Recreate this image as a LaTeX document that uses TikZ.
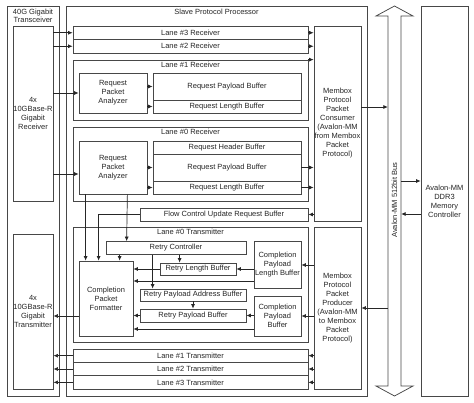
\documentclass[tikz,border=0pt]{standalone}
\usepackage{fontspec}
\setmainfont{Liberation Sans}
\usetikzlibrary{
  calc, % Für Koordinatenberechnungen
  arrows.meta % Für Pfeilspitzen
}

\begin{document}
\begin{tikzpicture}[
      x=1pt, y=-1pt, % Pixelkoordinaten, y nach unten
      >={Latex[length=4.5pt,width=4pt]}, % Standard-Pfeilspitze
      font=\fontsize{7.5}{9}\selectfont,
      text=black!85,
      linie/.style={draw=black!72, line width=0.75pt}, % Rahmenlinie
      box/.style={linie, inner sep=0.5pt, align=center}, % Kästen
      titel/.style={anchor=north, inner sep=2.5pt, align=center}, % Überschriften
      pfeil/.style={black!85, line width=0.7pt, ->}, % Signalpfeile
    ]
    % Größen
    \def\breit{235}
    \def\schmal{47}
    \path[use as bounding box, fill=white] (0,0) rectangle (474,402);

    % Transceiver
    \node[box, minimum width=52, minimum height=390] (trx) at (33,201) {};
    \node[titel, inner sep=3pt] (trxtitel) at (trx.north) {40G Gigabit\\[-1pt]Transceiver};
    \node[box, minimum width=40, minimum height=175] (rx) at (33,113.5) {4x\\10GBase-R\\Gigabit\\Receiver};
    \node[box, minimum width=40, minimum height=155] (tx) at (33,311.5) {4x\\10GBase-R\\Gigabit\\Transmitter};

    % Slave Protocol Processor
    \node[box, minimum width=301, minimum height=390] (spp) at (216.5,201) {};
    \node[titel, inner sep=3pt] (spptitel) at (spp.north) {Slave Protocol Processor};

    % Empfänger
    \node[box, minimum width=\breit, minimum height=13.5] (rx3) at (190.5,32.75) {Lane \#3 Receiver};
    \node[box, minimum width=\breit, minimum height=13.5] (rx2) at (190.5,46.25) {Lane \#2 Receiver};

    \node[box, minimum width=\breit, minimum height=60] (rx1) at (190.5,90) {};
    \node[titel] (rx1titel) at (rx1.north) {Lane \#1 Receiver};
    \node[box, minimum width=68, minimum height=40] (ana1) at (113,93) {Request\\Packet\\Analyzer};
    \node[box, minimum width=148, minimum height=27] (pay1) at (227,86.5) {Request Payload Buffer};
    \node[box, minimum width=148, minimum height=13] (len1) at (227,106.5) {Request Length Buffer};

    \node[box, minimum width=\breit, minimum height=74] (rx0) at (190.5,164) {};
    \node[titel] (rx0titel) at (rx0.north) {Lane \#0 Receiver};
    \node[box, minimum width=68, minimum height=53] (ana0) at (113,167.5) {Request\\Packet\\Analyzer};
    \node[box, minimum width=148, minimum height=13] (hdr0) at (227,147.5) {Request Header Buffer};
    \node[box, minimum width=148, minimum height=27] (pay0) at (227,167.5) {Request Payload Buffer};
    \node[box, minimum width=148, minimum height=13] (len0) at (227,187.5) {Request Length Buffer};

    \node[box, minimum width=168, minimum height=13] (flow) at (224,214.5) {Flow Control Update Request Buffer};

    % Sender
    \node[box, minimum width=\breit, minimum height=115] (tx0) at (190.5,284.5) {};
    \node[titel] (tx0titel) at (tx0.north) {Lane \#0 Transmitter};
    \node[box, minimum width=140, minimum height=13] (retryctl) at (176,248) {Retry Controller};
    \node[box, minimum width=76, minimum height=12] (retrylen) at (198,269) {Retry Length Buffer};
    \node[box, minimum width=\schmal, minimum height=47] (cplen) at (277.5,265) {Completion\\Payload\\Length Buffer};
    \node[box, minimum width=54, minimum height=75] (fmt) at (106,298.5) {Completion\\Packet\\Formatter};
    \node[box, minimum width=106, minimum height=12] (rpaddr) at (193,295) {Retry Payload Address Buffer};
    \node[box, minimum width=106, minimum height=13] (rpbuf) at (193,315.5) {Retry Payload Buffer};
    \node[box, minimum width=\schmal, minimum height=40] (cpbuf) at (277.5,316) {Completion\\Payload\\Buffer};

    \node[box, minimum width=\breit, minimum height=13.33] (tx1) at (190.5,355.67) {Lane \#1 Transmitter};
    \node[box, minimum width=\breit, minimum height=13.33] (tx2) at (190.5,369) {Lane \#2 Transmitter};
    \node[box, minimum width=\breit, minimum height=13.33] (tx3) at (190.5,382.33) {Lane \#3 Transmitter};

    % Membox Consumer / Producer
    \node[box, minimum width=\schmal, minimum height=195] (consumer) at (337.5,123.5)
      {Membox\\Protocol\\Packet\\Consumer\\(Avalon-MM\\from Membox\\Packet\\Protocol)};
    \node[box, minimum width=\schmal, minimum height=162] (producer) at (337.5,308)
      {Membox\\Protocol\\Packet\\Producer\\(Avalon-MM\\to Membox\\Packet\\Protocol)};

    % Bus
    \node[minimum width=13, minimum height=370, inner sep=0pt] (bus) at (394.5,201) {};
    \draw[linie] (388,386) -- (388,16) -- (376,16) -- (394.5,6) -- (413,16) -- (401,16)
      -- (401,386) -- (413,386) -- (394.5,396) -- (376,386) -- cycle;
    \node[rotate=90] (buslbl) at (394.5,200) {Avalon-MM 512bit Bus};

    % Speicher
    \node[box, minimum width=\schmal, minimum height=390] (ddr) at (444.5,201) {Avalon-MM\\DDR3\\Memory\\Controller};

    % Pfeile Empfang
    \draw[pfeil] (rx.east |- rx3.west) -- (rx3.west);
    \draw[pfeil] (rx.east |- rx2.west) -- (rx2.west);
    \draw[pfeil] (rx.east |- ana1.west) -- (ana1.west);
    \coordinate (e0) at ([yshift=-6.5pt]ana0.west);
    \draw[pfeil] (e0 -| rx.east) -- (e0);
    \draw[pfeil] (ana1.east |- pay1.west) -- (pay1.west);
    \draw[pfeil] (ana1.east |- len1.west) -- (len1.west);
    \draw[pfeil] (ana0.east |- pay0.west) -- (pay0.west);
    \draw[pfeil] (ana0.east |- len0.west) -- (len0.west);
    \draw[pfeil] (rx3.east) -- (rx3.east -| consumer.west);
    \draw[pfeil] (rx2.east) -- (rx2.east -| consumer.west);
    \draw[pfeil] (rx1.north east) -- (rx1.north east -| consumer.west);
    \draw[pfeil] (pay0.east) -- (pay0.east -| consumer.west);
    \draw[pfeil] (len0.east) -- (len0.east -| consumer.west);
    \draw[pfeil] (consumer.west |- flow.east) -- (flow.east);

    % Pfeile Bus
    \coordinate (k1) at ([yshift=16.5pt]consumer.east);
    \draw[pfeil] (k1) -- (k1 -| bus.west);
    \coordinate (d1) at ([yshift=20pt]ddr.west);
    \draw[pfeil] (d1 -| bus.east) -- (d1);
    \coordinate (d2) at ([yshift=-13pt]ddr.west);
    \draw[pfeil] (d2) -- (d2 -| bus.east);
    \draw[pfeil] (bus.west |- producer.east) -- (producer.east);

    % Pfeile Senden
    \draw[pfeil] (flow.west) -| ([xshift=20pt]fmt.north west);
    \draw[pfeil] ([xshift=7pt]ana0.south west) -- ([xshift=7pt]fmt.north west);
    \draw[pfeil] ([xshift=-20pt]ana0.south east) -- ([xshift=21pt]retryctl.north west);
    \draw[pfeil] ([xshift=14pt]retryctl.south west) -- ([xshift=41pt]fmt.north west);
    \draw[pfeil] ([xshift=74pt]retryctl.south west) -- ([xshift=20pt]retrylen.north west);
    \draw[pfeil] ([xshift=47pt]retryctl.south west) -- ([xshift=13pt]rpaddr.north west);
    \draw[pfeil] (retrylen.west) -- (retrylen.west -| fmt.east);
    \draw[pfeil] (cplen.west |- retrylen.east) -- (retrylen.east);
    \coordinate (c1) at ([yshift=-16pt]cplen.west);
    \draw[pfeil] (c1) -- (c1 -| fmt.east);
    \draw[pfeil] (consumer.west |- cplen.east) -- (cplen.east);
    \draw[pfeil] (rpaddr.south) -- (rpbuf.north);
    \draw[pfeil] (rpbuf.west) -- (rpbuf.west -| fmt.east);
    \draw[pfeil] (cpbuf.west |- rpbuf.east) -- (rpbuf.east);
    \coordinate (c2) at ([yshift=-13pt]cpbuf.west);
    \draw[pfeil] (c2) -- (c2 -| fmt.east);
    \draw[pfeil] (producer.west |- cpbuf.east) -- (cpbuf.east);
    \coordinate (c3) at ([yshift=-17.5pt]fmt.west);
    \draw[pfeil] (c3) -- (c3 -| tx.east);
    \draw[pfeil] (producer.west |- tx1.east) -- (tx1.east);
    \draw[pfeil] (producer.west |- tx2.east) -- (tx2.east);
    \draw[pfeil] (producer.west |- tx3.east) -- (tx3.east);
    \draw[pfeil] (tx1.west) -- (tx1.west -| tx.east);
    \draw[pfeil] (tx2.west) -- (tx2.west -| tx.east);
    \draw[pfeil] (tx3.west) -- (tx3.west -| tx.east);

  \end{tikzpicture}
\end{document}
